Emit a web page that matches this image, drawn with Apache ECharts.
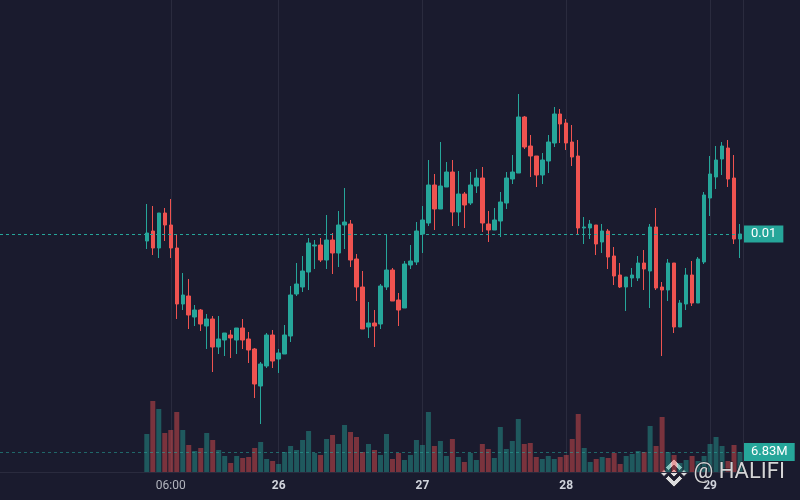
<!DOCTYPE html>
<html>
<head>
<meta charset="utf-8">
<style>
  html, body { margin: 0; padding: 0; background: #1a1b2e; }
  #chart { width: 800px; height: 500px; }
</style>
<script src="https://cdn.jsdelivr.net/npm/echarts@6.0.0/dist/echarts.min.js"></script>
</head>
<body>
<div id="chart"></div>
<script>
// hourly candles, 25 02:00 .. 29 05:00
let opens = [
  0.00993, 0.01003, 0.00986, 0.01021, 0.01009, 0.00986, 0.00930, 0.00938, 0.00917, 0.00924,
  0.00908, 0.00915, 0.00887, 0.00894, 0.00899, 0.00894, 0.00906, 0.00895, 0.00885, 0.00848,
  0.00868, 0.00899, 0.00875, 0.00880, 0.00898, 0.00940, 0.00947, 0.00962, 0.00988, 0.00989,
  0.00974, 0.00994, 0.00981, 0.01009, 0.01010, 0.00975, 0.00947, 0.00907, 0.00911, 0.00910,
  0.00947, 0.00964, 0.00934, 0.00926, 0.00969, 0.00972, 0.01000, 0.01011, 0.01049, 0.01025,
  0.01047, 0.01062, 0.01022, 0.01040, 0.01031, 0.01048, 0.01056, 0.01010, 0.01004, 0.01013,
  0.01031, 0.01055, 0.01061, 0.01117, 0.01088, 0.01078, 0.01059, 0.01073, 0.01091, 0.01120,
  0.01111, 0.01092, 0.01078, 0.01006, 0.01006, 0.01009, 0.00992, 0.01003, 0.00978, 0.00959,
  0.00947, 0.00956, 0.00956, 0.00971, 0.00963, 0.01007, 0.00947, 0.00944, 0.00971, 0.00907,
  0.00930, 0.00959, 0.00931, 0.00972, 0.01036, 0.01057, 0.01075, 0.01086, 0.01056, 0.00995
];
let closes = [
  0.01001, 0.00986, 0.01021, 0.01009, 0.00986, 0.00930, 0.00939, 0.00919, 0.00924, 0.00910,
  0.00915, 0.00887, 0.00895, 0.00901, 0.00896, 0.00906, 0.00894, 0.00884, 0.00850, 0.00870,
  0.00899, 0.00873, 0.00881, 0.00899, 0.00939, 0.00950, 0.00963, 0.00991, 0.00989, 0.00974,
  0.00994, 0.00981, 0.01009, 0.01012, 0.00974, 0.00947, 0.00905, 0.00911, 0.00908, 0.00948,
  0.00964, 0.00933, 0.00924, 0.00970, 0.00973, 0.01003, 0.01014, 0.01049, 0.01025, 0.01048,
  0.01062, 0.01022, 0.01040, 0.01029, 0.01049, 0.01056, 0.01011, 0.01004, 0.01014, 0.01032,
  0.01056, 0.01062, 0.01117, 0.01087, 0.01078, 0.01059, 0.01074, 0.01092, 0.01120, 0.01110,
  0.01091, 0.01077, 0.01006, 0.01007, 0.01010, 0.00990, 0.01003, 0.00977, 0.00958, 0.00947,
  0.00957, 0.00959, 0.00971, 0.00965, 0.01007, 0.00946, 0.00944, 0.00971, 0.00907, 0.00931,
  0.00959, 0.00931, 0.00975, 0.01039, 0.01060, 0.01074, 0.01088, 0.01055, 0.00995, 0.01000
];
let highs = [
  0.01030, 0.01028, 0.01021, 0.01026, 0.01035, 0.00999, 0.00961, 0.00955, 0.00929, 0.00925,
  0.00920, 0.00918, 0.00918, 0.00901, 0.00904, 0.00906, 0.00915, 0.00902, 0.00886, 0.00872,
  0.00901, 0.00904, 0.00885, 0.00909, 0.00948, 0.00971, 0.00978, 0.00996, 0.00994, 0.00996,
  0.01019, 0.01001, 0.01023, 0.01046, 0.01014, 0.00980, 0.00963, 0.00932, 0.00924, 0.00950,
  0.01000, 0.00966, 0.00941, 0.00973, 0.00989, 0.01012, 0.01028, 0.01074, 0.01060, 0.01092,
  0.01072, 0.01074, 0.01063, 0.01042, 0.01062, 0.01065, 0.01067, 0.01023, 0.01026, 0.01042,
  0.01062, 0.01079, 0.01140, 0.01118, 0.01099, 0.01078, 0.01081, 0.01099, 0.01127, 0.01125,
  0.01115, 0.01109, 0.01094, 0.01017, 0.01014, 0.01009, 0.01010, 0.01005, 0.00987, 0.00971,
  0.00957, 0.00966, 0.00978, 0.00984, 0.01010, 0.01026, 0.00952, 0.00975, 0.00971, 0.00934,
  0.00966, 0.00973, 0.00977, 0.01042, 0.01078, 0.01088, 0.01092, 0.01094, 0.01079, 0.01010
];
let lows = [
  0.00985, 0.00979, 0.00976, 0.00993, 0.00976, 0.00915, 0.00924, 0.00905, 0.00908, 0.00903,
  0.00885, 0.00862, 0.00880, 0.00878, 0.00876, 0.00880, 0.00885, 0.00871, 0.00836, 0.00810,
  0.00866, 0.00866, 0.00861, 0.00880, 0.00892, 0.00938, 0.00942, 0.00944, 0.00965, 0.00972,
  0.00965, 0.00960, 0.00967, 0.00985, 0.00967, 0.00933, 0.00905, 0.00896, 0.00887, 0.00905,
  0.00944, 0.00933, 0.00908, 0.00926, 0.00965, 0.00969, 0.00981, 0.01008, 0.01004, 0.01025,
  0.01047, 0.01008, 0.01008, 0.01006, 0.01029, 0.01041, 0.01002, 0.00992, 0.01004, 0.00997,
  0.01025, 0.01050, 0.01061, 0.01085, 0.01057, 0.01047, 0.01050, 0.01061, 0.01087, 0.01091,
  0.01084, 0.01068, 0.01000, 0.00990, 0.00995, 0.00979, 0.00981, 0.00965, 0.00949, 0.00946,
  0.00923, 0.00947, 0.00953, 0.00944, 0.00926, 0.00944, 0.00878, 0.00933, 0.00901, 0.00907,
  0.00924, 0.00928, 0.00931, 0.00970, 0.01018, 0.01045, 0.01059, 0.01047, 0.00990, 0.00976
];
// volume, millions
let volumes = [
  12.98, 24.25, 21.51, 13.32, 14.34, 20.49, 14.34, 9.22, 7.17, 8.20,
  13.32, 10.93, 7.51, 5.46, 3.07, 5.46, 4.78, 5.12, 8.20, 10.25,
  4.44, 3.76, 2.73, 6.83, 8.88, 7.51, 10.93, 14.00, 6.49, 5.81,
  11.27, 12.64, 9.56, 16.05, 13.66, 11.95, 6.83, 9.56, 7.51, 5.81,
  12.98, 4.44, 6.49, 4.10, 5.81, 10.93, 9.22, 20.49, 8.88, 10.59,
  5.46, 11.27, 5.12, 3.42, 6.49, 4.10, 9.56, 7.85, 4.78, 15.37,
  7.85, 10.59, 18.10, 9.56, 9.90, 5.12, 4.44, 5.46, 4.44, 5.12,
  5.81, 11.27, 19.81, 8.20, 3.42, 4.44, 5.12, 4.78, 6.49, 2.73,
  5.46, 6.15, 7.17, 6.83, 15.71, 8.88, 18.78, 6.83, 5.81, 3.07,
  4.10, 5.46, 3.76, 5.46, 9.56, 11.95, 8.88, 3.76, 9.22, 6.83
];
let tickCats = ['25 06:00', '26 00:00', '27 00:00', '28 00:00', '29 00:00'];
let tickText = ['06:00', '26', '27', '28', '29'];
let lastPrice = 0.01;
let lastPriceText = '0.01';
let lastVolume = 6.83;
let lastVolumeText = '6.83M';

// hourly category axis, one empty day before the first candle
let padHours = 24;
let categories = [];
for (let k = 0; k < padHours + opens.length; k++) {
    let h = 2 + k;
    let day = 24 + Math.floor(h / 24);
    categories.push(day + ' ' + String(h % 24).padStart(2, '0') + ':00');
}

let upColor = '#26a69a';
let downColor = '#ef5350';
let gridColor = '#2a2b3e';

let candleData = [];
let volumeData = [];
opens.forEach(function (o, i) {
    let cat = categories[padHours + i];
    candleData.push([cat, o, closes[i], lows[i], highs[i]]);
    volumeData.push({
        value: [cat, volumes[i]],
        itemStyle: {color: closes[i] >= o ? 'rgba(38,166,154,0.45)' : 'rgba(239,83,80,0.45)'}
    });
});

let chart = echarts.init(document.getElementById('chart'));
let option = {
    backgroundColor: '#1a1b2e',
    animation: false,
    textStyle: {fontFamily: 'Roboto'},
    grid: {left: -1, top: 0, width: 744, bottom: 28},
    xAxis: {
        type: 'category',
        data: categories,
        boundaryGap: true,
        axisLine: {show: true, lineStyle: {color: gridColor}},
        axisTick: {show: false},
        splitLine: {show: false},
        axisLabel: {
            interval: function (index, value) {
                return tickCats.indexOf(value) >= 0;
            },
            margin: 8,
            formatter: function (value) {
                let t = tickText[tickCats.indexOf(value)];
                return t.indexOf(':') >= 0 ? '{t|' + t + '}' : '{d|' + t + '}';
            },
            rich: {
                t: {color: '#b2b5be', fontSize: 12, fontFamily: 'Roboto'},
                d: {color: '#d1d4dc', fontSize: 12, fontWeight: 'bold', fontFamily: 'Roboto'}
            }
        }
    },
    yAxis: [
        {
            type: 'value',
            position: 'right',
            min: 0.00762,
            max: 0.01234,
            axisLine: {show: true, lineStyle: {color: gridColor}},
            axisTick: {show: false},
            axisLabel: {show: false},
            splitLine: {show: false}
        },
        {
            type: 'value',
            min: 0,
            max: 161.2,
            show: false,
            splitLine: {show: false}
        }
    ],
    graphic: [
        {
            type: 'group',
            x: 674,
            y: 473,
            z: 100,
            children: [
                [[0, -4], [4, 0], [0, 4], [-4, 0]],
                [[-10, -3.5], [-6.5, 0], [-10, 3.5], [-13.5, 0]],
                [[10, -3.5], [13.5, 0], [10, 3.5], [6.5, 0]],
                [[0, -14], [8.5, -5.5], [5.5, -2.5], [0, -8], [-5.5, -2.5], [-8.5, -5.5]],
                [[0, 14], [8.5, 5.5], [5.5, 2.5], [0, 8], [-5.5, 2.5], [-8.5, 5.5]]
            ].map(function (pts) {
                return {
                    type: 'polygon',
                    shape: {points: pts},
                    style: {fill: '#dcdcde', stroke: 'rgba(15,15,25,0.7)', lineWidth: 1}
                };
            })
        },
        {
            type: 'text',
            left: 693,
            top: 461,
            z: 100,
            style: {
                text: '@ HALIFI',
                fill: '#d4d4d6',
                font: '22px Roboto',
                stroke: 'rgba(15,15,25,0.7)',
                lineWidth: 1
            }
        }
    ],
    series: [
        {
            // vertical grid lines at the labelled times
            type: 'line',
            data: [],
            z: 0,
            silent: true,
            markLine: {
                z: 0,
                silent: true,
                symbol: ['none', 'none'],
                label: {show: false},
                lineStyle: {color: gridColor, type: 'solid', width: 1},
                data: tickCats.map(function (c) {
                    return {xAxis: c};
                })
            }
        },
        {
            name: 'Volume',
            type: 'bar',
            xAxisIndex: 0,
            yAxisIndex: 1,
            barWidth: 5,
            z: 1,
            data: volumeData,
            markLine: {
                z: 3,
                silent: true,
                symbol: ['none', 'none'],
                lineStyle: {color: 'rgba(38,166,154,0.55)', type: [3, 3], width: 1},
                label: {
                    position: 'end',
                    distance: 1,
                    formatter: lastVolumeText,
                    color: '#ffffff',
                    fontSize: 13,
                    fontFamily: 'Roboto',
                    backgroundColor: upColor,
                    padding: [2, 7],
                    lineHeight: 14
                },
                data: [{yAxis: lastVolume}]
            }
        },
        {
            name: 'Price',
            type: 'candlestick',
            xAxisIndex: 0,
            yAxisIndex: 0,
            barWidth: 4,
            z: 2,
            encode: {x: 0, y: [1, 2, 3, 4]},
            data: candleData,
            itemStyle: {
                color: upColor,
                color0: downColor,
                borderColor: upColor,
                borderColor0: downColor,
                borderWidth: 1
            },
            markLine: {
                z: 5,
                silent: true,
                symbol: ['none', 'none'],
                lineStyle: {color: upColor, type: [3, 3], width: 1},
                label: {
                    position: 'end',
                    distance: 1,
                    formatter: lastPriceText,
                    color: '#ffffff',
                    fontSize: 13,
                    fontFamily: 'Roboto',
                    backgroundColor: upColor,
                    padding: [1, 7],
                    lineHeight: 15
                },
                data: [{yAxis: lastPrice}]
            }
        }
    ]
};
chart.setOption(option);
</script>
</body>
</html>
